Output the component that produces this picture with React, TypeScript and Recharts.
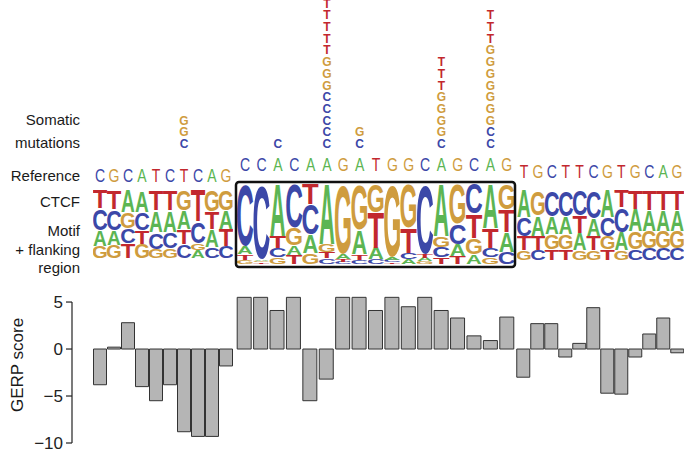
import { Bar, BarChart, XAxis, YAxis } from "recharts";

// reference bases, one per column
const LEFT_REF = ["C", "G", "C", "A", "T", "C", "T", "C", "A", "G"];
const MOTIF_REF = ["C", "C", "A", "C", "A", "A", "G", "A", "T", "G", "G", "C", "A", "G", "C", "A", "G"];
const RIGHT_REF = ["T", "G", "C", "T", "T", "C", "G", "T", "G", "C", "A", "G"];

// somatic mutations per column, bottom -> top
const LEFT_MUT = ["", "", "", "", "", "", "CGG", "", "", ""];
const MOTIF_MUT = ["", "", "C", "", "", "CCCCCGGGTTTTT", "", "CG", "", "", "", "", "CGGGGTTT", "", "", "CCGGGGGGGTTT", ""];
const RIGHT_MUT = ["", "", "", "", "", "", "", "", "", "", "", ""];

// logo columns: [base, probability] bottom -> top
const LEFT_LOGO: [string, number][][] = [
  [["G", 0.18], ["A", 0.23], ["C", 0.32], ["T", 0.27]],
  [["G", 0.19], ["A", 0.22], ["C", 0.31], ["T", 0.28]],
  [["T", 0.21], ["C", 0.22], ["G", 0.24], ["A", 0.33]],
  [["G", 0.21], ["T", 0.2], ["C", 0.27], ["A", 0.32]],
  [["G", 0.13], ["C", 0.25], ["A", 0.32], ["T", 0.3]],
  [["G", 0.14], ["C", 0.24], ["A", 0.32], ["T", 0.3]],
  [["C", 0.2], ["T", 0.22], ["A", 0.28], ["G", 0.3]],
  [["A", 0.12], ["G", 0.1], ["C", 0.32], ["T", 0.46]],
  [["C", 0.16], ["A", 0.26], ["T", 0.26], ["G", 0.32]],
  [["C", 0.17], ["T", 0.25], ["A", 0.28], ["G", 0.3]],
];
const MOTIF_LOGO: [string, number][][] = [
  [["G", 0.05], ["T", 0.07], ["A", 0.1], ["C", 0.78]],
  [["T", 0.02], ["G", 0.02], ["A", 0.02], ["C", 0.94]],
  [["G", 0.08], ["C", 0.12], ["T", 0.14], ["A", 0.66]],
  [["T", 0.11], ["A", 0.12], ["G", 0.22], ["C", 0.55]],
  [["G", 0.14], ["A", 0.22], ["C", 0.38], ["T", 0.26]],
  [["C", 0.07], ["T", 0.08], ["G", 0.1], ["A", 0.75]],
  [["C", 0.03], ["T", 0.03], ["A", 0.06], ["G", 0.88]],
  [["C", 0.05], ["T", 0.07], ["A", 0.3], ["G", 0.58]],
  [["C", 0.06], ["A", 0.14], ["T", 0.44], ["G", 0.36]],
  [["T", 0.02], ["C", 0.03], ["A", 0.03], ["G", 0.92]],
  [["A", 0.06], ["C", 0.08], ["T", 0.31], ["G", 0.55]],
  [["G", 0.04], ["A", 0.04], ["T", 0.04], ["C", 0.88]],
  [["T", 0.08], ["C", 0.13], ["G", 0.14], ["A", 0.65]],
  [["T", 0.1], ["A", 0.14], ["C", 0.26], ["G", 0.5]],
  [["A", 0.12], ["G", 0.2], ["T", 0.3], ["C", 0.38]],
  [["G", 0.08], ["C", 0.12], ["T", 0.25], ["A", 0.55]],
  [["C", 0.15], ["A", 0.25], ["T", 0.28], ["G", 0.32]],
];
const RIGHT_LOGO: [string, number][][] = [
  [["G", 0.14], ["T", 0.2], ["C", 0.27], ["A", 0.39]],
  [["C", 0.15], ["T", 0.2], ["A", 0.29], ["G", 0.36]],
  [["T", 0.15], ["G", 0.22], ["A", 0.25], ["C", 0.38]],
  [["T", 0.15], ["G", 0.22], ["A", 0.25], ["C", 0.38]],
  [["G", 0.14], ["A", 0.24], ["T", 0.25], ["C", 0.37]],
  [["G", 0.14], ["T", 0.21], ["A", 0.25], ["C", 0.4]],
  [["T", 0.15], ["G", 0.19], ["C", 0.27], ["A", 0.39]],
  [["G", 0.14], ["A", 0.26], ["C", 0.36], ["T", 0.24]],
  [["C", 0.15], ["G", 0.26], ["A", 0.32], ["T", 0.27]],
  [["C", 0.17], ["G", 0.25], ["A", 0.3], ["T", 0.28]],
  [["C", 0.17], ["G", 0.25], ["A", 0.3], ["T", 0.28]],
  [["C", 0.17], ["G", 0.25], ["A", 0.3], ["T", 0.28]],
];

// GERP scores
const LEFT_GERP = [-3.8, 0.2, 2.8, -4.0, -5.5, -3.8, -8.8, -9.3, -9.3, -1.8];
const MOTIF_GERP = [5.5, 5.5, 4.1, 5.5, -5.5, -3.2, 5.5, 5.5, 4.1, 5.5, 4.5, 5.5, 4.1, 3.3, 1.4, 0.9, 3.4];
const RIGHT_GERP = [-3.0, 2.7, 2.7, -0.85, 0.6, 4.4, -4.7, -4.8, -0.85, 1.6, 3.3, -0.4];
const GERP_TICKS = [-10, -5, 0, 5];

const FONT = "'Liberation Sans', Arial, Helvetica, sans-serif";
const BASE_COLORS: Record<string, string> = {
  A: "#5cb553",
  C: "#3c48a8",
  G: "#cf9c3e",
  T: "#c2282e",
};
// approx ink box of bold glyphs, in em
const GLYPH: Record<string, { w: number; h: number; d: number }> = {
  A: { w: 0.71, h: 0.716, d: 0 },
  C: { w: 0.63, h: 0.74, d: 0.012 },
  G: { w: 0.67, h: 0.74, d: 0.012 },
  T: { w: 0.57, h: 0.716, d: 0 },
};

const GERP_DOMAIN: [number, number] = [-10, 5.6];
const GERP_TOP = 290;
const GERP_H = 160;
const GERP_MARGIN = { top: 6.4, right: 0, bottom: 7, left: 0 };
const GERP_PLOT_H = GERP_H - GERP_MARGIN.top - GERP_MARGIN.bottom;
const TICK_STEP = (5 * GERP_PLOT_H) / (GERP_DOMAIN[1] - GERP_DOMAIN[0]);
const TICK_SIZE = 6;
const TICK_MARGIN = 3;
const MUT_STEP = 11.7;

function buildLogo(cols: [string, number][][], refs: string[], muts: string[]) {
  return cols.map((col, i) => {
    const row: Record<string, any> = { pos: `p${i}`, ref: refs[i], mut: muts[i] };
    col.forEach(([l, h], k) => {
      row[`l${k}`] = l;
      row[`h${k}`] = h;
    });
    return row;
  });
}

function LogoLetter(props: any) {
  const { x, y, width, height, payload, rank } = props;
  const letter = payload[`l${rank}`];
  if (!letter || !(height > 0.2)) return null;
  const g = GLYPH[letter];
  const sx = (width * 0.97) / (g.w * 100);
  const sy = height / (g.h * 100);
  return (
    <text
      transform={`translate(${x + width / 2},${y + height}) scale(${sx},${sy})`}
      y={-g.d * 100}
      textAnchor="middle"
      fontSize={100}
      fontWeight="bold"
      fontFamily={FONT}
      fill={BASE_COLORS[letter]}
    >
      {letter}
    </text>
  );
}

function RefTick(props: any) {
  const { x, y, payload, rows, refDy, mutDy } = props;
  const row = rows[payload.index];
  if (!row) return null;
  const muts: string[] = row.mut ? row.mut.split("") : [];
  return (
    <g>
      <text
        transform={`translate(${x},${y - refDy}) scale(0.78,1)`}
        textAnchor="middle"
        fontSize={18}
        fontFamily={FONT}
        fill={BASE_COLORS[row.ref]}
      >
        {row.ref}
      </text>
      {muts.map((m, k) => (
        <text
          key={k}
          x={x}
          y={y - mutDy - k * MUT_STEP}
          textAnchor="middle"
          fontSize={12}
          fontWeight="bold"
          fontFamily={FONT}
          fill={BASE_COLORS[m]}
        >
          {m}
        </text>
      ))}
    </g>
  );
}

function LogoChart({
  cols,
  refs,
  muts,
  left,
  width,
  plotTop,
  plotBottom,
  refDy,
  mutDy,
}: {
  cols: [string, number][][];
  refs: string[];
  muts: string[];
  left: number;
  width: number;
  plotTop: number;
  plotBottom: number;
  refDy: number;
  mutDy: number;
}) {
  const rows = buildLogo(cols, refs, muts);
  return (
    <div style={{ position: "absolute", left, top: 0 }}>
      <BarChart
        width={width}
        height={plotBottom}
        data={rows}
        margin={{ top: 0, right: 0, bottom: 0, left: 0 }}
        barCategoryGap={0}
        barGap={0}
        style={{ overflow: "visible" }}
      >
        <XAxis
          dataKey="pos"
          orientation="top"
          height={plotTop}
          axisLine={false}
          tickLine={false}
          tickSize={0}
          tickMargin={0}
          interval={0}
          tick={(p: any) => <RefTick {...p} rows={rows} refDy={refDy} mutDy={mutDy} />}
        />
        <YAxis hide domain={[0, 1]} />
        {[0, 1, 2, 3].map((k) => (
          <Bar
            key={k}
            dataKey={`h${k}`}
            stackId="logo"
            isAnimationActive={false}
            shape={(p: any) => <LogoLetter {...p} rank={k} />}
          />
        ))}
      </BarChart>
    </div>
  );
}

function fmtTick(v: number) {
  return v < 0 ? `\u2212${Math.abs(v)}` : `${v}`;
}

function GerpTick(props: any) {
  const { x, y, payload } = props;
  const axisX = x + TICK_SIZE + TICK_MARGIN;
  return (
    <g>
      {payload.value < GERP_TICKS[GERP_TICKS.length - 1] && (
        <line x1={axisX} x2={axisX} y1={y} y2={y - TICK_STEP} stroke="#222" strokeWidth={1.2} />
      )}
      <text x={x} y={y} dy="0.35em" textAnchor="end" fontSize={17} fontFamily={FONT} fill="#222">
        {fmtTick(payload.value)}
      </text>
    </g>
  );
}

function GerpChart({
  values,
  left,
  width,
  gap,
  withAxis,
}: {
  values: number[];
  left: number;
  width: number;
  gap: number;
  withAxis?: boolean;
}) {
  const data = values.map((v, i) => ({ pos: `p${i}`, gerp: v }));
  return (
    <div style={{ position: "absolute", left, top: GERP_TOP }}>
      <BarChart
        width={width}
        height={GERP_H}
        data={data}
        margin={GERP_MARGIN}
        barCategoryGap={gap}
        style={{ overflow: "visible" }}
      >
        <XAxis dataKey="pos" hide padding={withAxis ? { left: 21, right: 0 } : { left: 0, right: 0 }} />
        {withAxis ? (
          <YAxis
            domain={GERP_DOMAIN}
            ticks={GERP_TICKS}
            interval={0}
            width={72}
            axisLine={false}
            tickSize={TICK_SIZE}
            tickMargin={TICK_MARGIN}
            tickLine={{ stroke: "#222", strokeWidth: 1.2 }}
            tick={<GerpTick />}
          />
        ) : (
          <YAxis hide domain={GERP_DOMAIN} ticks={GERP_TICKS} />
        )}
        <Bar dataKey="gerp" fill="#b5b5b5" stroke="#333" strokeWidth={1} isAnimationActive={false} />
      </BarChart>
    </div>
  );
}

const ROW_LABELS: [string, number][] = [
  ["Somatic", 125],
  ["mutations", 148],
  ["Reference", 181],
  ["CTCF", 207],
  ["Motif", 236],
  ["+ flanking", 255],
  ["region", 273],
];

export default function App() {
  return (
    <div
      style={{
        position: "absolute",
        left: 0,
        top: 0,
        width: 685,
        height: 452,
        background: "#fff",
        fontFamily: FONT,
      }}
    >
      <LogoChart cols={LEFT_LOGO} refs={LEFT_REF} muts={LEFT_MUT} left={93} width={140} plotTop={190} plotBottom={258} refDy={8.5} mutDy={42} />
      <LogoChart cols={MOTIF_LOGO} refs={MOTIF_REF} muts={MOTIF_MUT} left={237} width={278} plotTop={183} plotBottom={264} refDy={12.5} mutDy={35} />
      <LogoChart cols={RIGHT_LOGO} refs={RIGHT_REF} muts={RIGHT_MUT} left={517} width={167} plotTop={190} plotBottom={260} refDy={12.5} mutDy={42} />

      <GerpChart values={LEFT_GERP} left={0} width={233} gap={0.5} withAxis />
      <GerpChart values={MOTIF_GERP} left={236} width={279} gap={1.2} />
      <GerpChart values={RIGHT_GERP} left={516} width={168} gap={0.75} />

      <svg
        width={685}
        height={452}
        style={{ position: "absolute", left: 0, top: 0, pointerEvents: "none" }}
      >
        {ROW_LABELS.map(([t, yy]) => (
          <text key={t} x={80} y={yy} textAnchor="end" fontSize={15} fontFamily={FONT} fill="#1a1a1a">
            {t}
          </text>
        ))}
        <text
          transform="translate(23,365) rotate(-90)"
          textAnchor="middle"
          fontSize={17}
          fontFamily={FONT}
          fill="#1a1a1a"
        >
          GERP score
        </text>
        <rect x={236} y={182} width={279} height={85} rx={3} fill="none" stroke="#111" strokeWidth={2.5} />
      </svg>
    </div>
  );
}
